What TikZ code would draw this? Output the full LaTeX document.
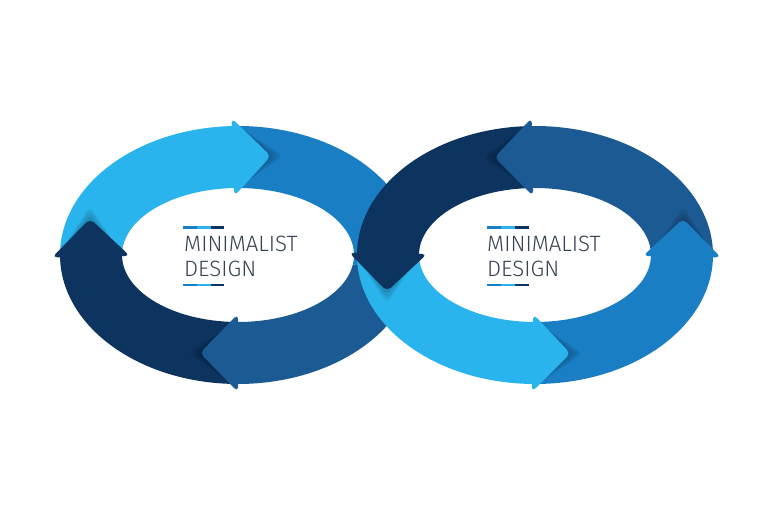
\documentclass[tikz,border=0pt]{standalone}
\usepackage{fontspec}
\IfFontExistsTF{Fira Sans Light}{\newfontfamily\txtfont{Fira Sans Light}}{\newfontfamily\txtfont{TeX Gyre Heros}}
\definecolor{lblue}{HTML}{2AB4EE}
\definecolor{mblue}{HTML}{1A7EC4}
\definecolor{sblue}{HTML}{1C5A93}
\definecolor{nblue}{HTML}{0D335F}
\definecolor{txtgray}{HTML}{364153}

\newcommand\ringbody[3]{%
  \fill[#1] (#2:178pt and 129pt) arc[start angle=#2, end angle=#3, x radius=178pt, y radius=129pt]
    -- (#3:116pt and 67pt) arc[start angle=#3, end angle=#2, x radius=116pt, y radius=67pt] -- cycle;}

\newcommand\headtip[2]{%
  \pgfmathsetmacro\hc{cos(#1)}\pgfmathsetmacro\hs{sin(#1)}%
  \pgfmathsetmacro\tnx{-1.47*\hs}\pgfmathsetmacro\tny{0.98*\hc}%
  \pgfmathsetmacro\tnl{sqrt(\tnx*\tnx+\tny*\tny)}%
  \pgfmathsetmacro\tipx{147*\hc+#2*\hlen*\tnx/\tnl}%
  \pgfmathsetmacro\tipy{98*\hs+#2*\hlen*\tny/\tnl}}

\newcommand\arrowhead[3]{%
  \pgfmathsetmacro\sb{#2+#3*2}%
  \foreach \k in {4,8,12}{%
    \pgfmathsetmacro\hlen{38+\k}\headtip{#2}{#3}%
    \fill[black,opacity=0.08,rounded corners=5pt] (\sb:116pt and 67pt) -- (\tipx pt,\tipy pt) -- (\sb:178pt and 129pt) -- cycle;}%
  \def\hlen{38}\headtip{#2}{#3}%
  \fill[#1,rounded corners=5pt] (#2:108pt and 59pt) -- (\tipx pt,\tipy pt) -- (#2:186pt and 137pt) -- cycle;}

\tikzset{txt/.style={font=\txtfont\fontsize{22.2}{22.2}\selectfont, text=txtgray, inner sep=0pt, anchor=base west},
  bar/.style={line width=2.5pt}}

\begin{document}
\begin{tikzpicture}[x=1pt,y=1pt]
\useasboundingbox (0,0) rectangle (768,511);
\fill[white] (0,0) rectangle (768,511);

% left ring (clockwise)
\begin{scope}[shift={(238,256)}]
  \ringbody{lblue}{180}{91.4}
  \ringbody{mblue}{91}{-8}
  \ringbody{sblue}{-8}{-90.6}
  \ringbody{nblue}{-91}{-179.6}
  \arrowhead{lblue}{92}{-1}
  \arrowhead{sblue}{-90}{-1}
  \arrowhead{nblue}{181}{-1}
\end{scope}

% right ring (counter-clockwise)
\begin{scope}[shift={(535,256)}]
  \ringbody{sblue}{0}{91.6}
  \ringbody{nblue}{92}{179.6}
  \ringbody{lblue}{180}{269.6}
  \ringbody{mblue}{270}{359.6}
  \arrowhead{sblue}{91}{1}
  \arrowhead{nblue}{179}{1}
  \arrowhead{lblue}{269}{1}
  \arrowhead{mblue}{359}{1}
\end{scope}

% left text
\node[txt] (la) at (184,259) {MINIMALIST};
\node[txt] (lb) at (184,234) {DESIGN};
\draw[bar,mblue] (183,283.5) -- (197,283.5);
\draw[bar,lblue] (197,283.5) -- (211,283.5);
\draw[bar,nblue] (211,283.5) -- (224,283.5);
\draw[bar,mblue] (183,226) -- (197,226);
\draw[bar,lblue] (197,226) -- (211,226);
\draw[bar,nblue] (211,226) -- (224,226);

% right text
\node[txt] (ra) at (487,259) {MINIMALIST};
\node[txt] (rb) at (487,234) {DESIGN};
\draw[bar,mblue] (487,283.5) -- (501,283.5);
\draw[bar,lblue] (501,283.5) -- (515,283.5);
\draw[bar,nblue] (515,283.5) -- (529,283.5);
\draw[bar,mblue] (487,226) -- (501,226);
\draw[bar,lblue] (501,226) -- (515,226);
\draw[bar,nblue] (515,226) -- (529,226);
\end{tikzpicture}
\end{document}
